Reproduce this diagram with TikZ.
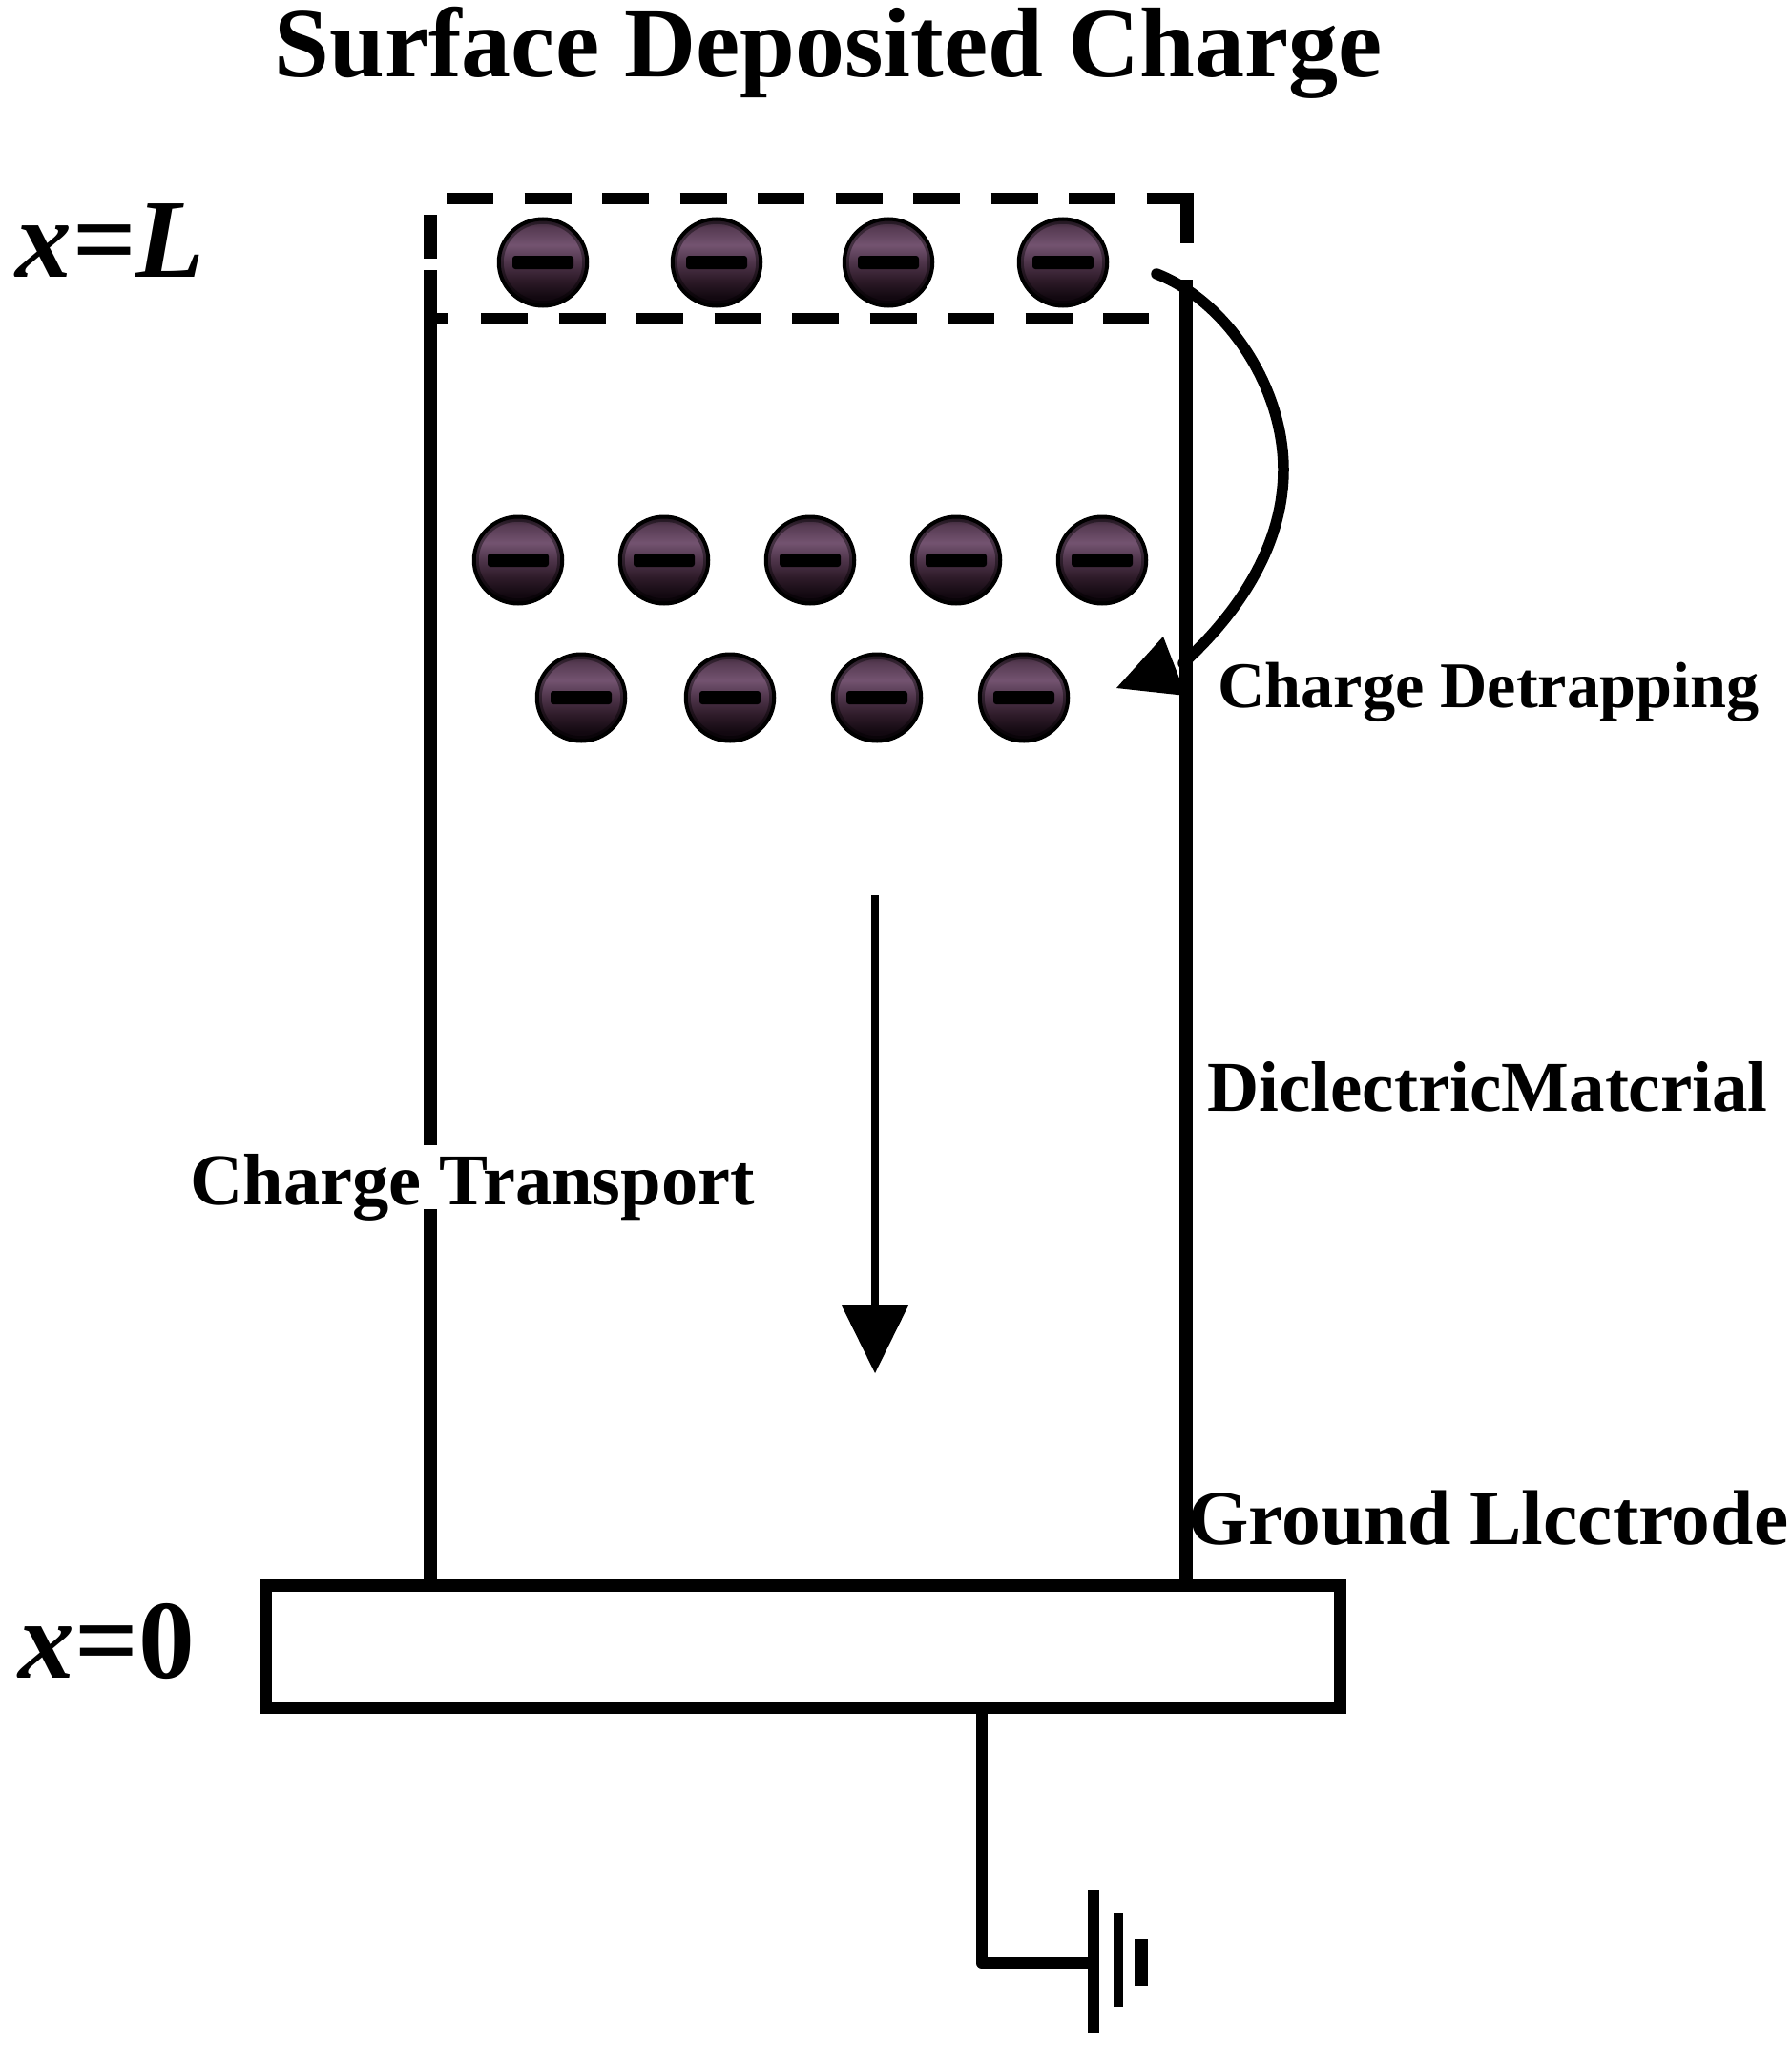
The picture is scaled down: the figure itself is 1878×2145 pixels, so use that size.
\documentclass[tikz,border=0pt]{standalone}
\usepackage{fontspec}
\setmainfont{Liberation Serif}
\usetikzlibrary{shapes.geometric}
\definecolor{ballDark}{HTML}{120810}
\definecolor{ballLow}{HTML}{2E1B29}
\definecolor{ballMidd}{HTML}{4E344A}
\definecolor{ballHigh}{HTML}{735370}
\definecolor{ballTop}{HTML}{563B52}
\definecolor{ballEdge}{HTML}{332130}
\pgfdeclareverticalshading{ballshade}{100bp}{
  color(0bp)=(ballDark);
  color(30bp)=(ballDark);
  color(40bp)=(ballLow);
  color(50bp)=(ballMidd);
  color(60bp)=(ballHigh);
  color(70bp)=(ballTop);
  color(75bp)=(ballEdge);
  color(100bp)=(ballEdge)}
\tikzset{
  x=0.4pt,y=-0.4pt,
  wall/.style={line width=5.8pt,black},
  dashline/.style={line width=4.6pt,black,dash pattern=on 19.6pt off 13pt},
  electrode/.style={draw=black,line width=5.2pt,fill=white,minimum width=450.4pt,minimum height=51.2pt,inner sep=0pt,anchor=center},
  lead/.style={line width=5pt,black,line join=round},
  ball/.style={ellipse,minimum width=37pt,minimum height=36.4pt,inner sep=0pt,draw=black,line width=1.6pt,shading=ballshade,
    path picture={
      \draw[black,opacity=.4,line width=3pt] (path picture bounding box.center) ellipse [x radius=18pt,y radius=17.6pt];
      \fill[black,rounded corners=1.2pt] ([xshift=-12.8pt,yshift=-2.8pt]path picture bounding box.center) rectangle ([xshift=12.8pt,yshift=2.8pt]path picture bounding box.center);}},
  lbl/.style={anchor=base west,inner sep=0pt,text=black},
}
\begin{document}
\begin{tikzpicture}
\useasboundingbox (0,0) rectangle (1878,2145);
\fill[white] (0,0) rectangle (1878,2145);
% title and labels
\node[lbl,font=\fontsize{41.6}{44}\selectfont\bfseries] (title) at (287,81) {Surface Deposited Charge};
\node[lbl,font=\fontsize{47}{50}\selectfont\bfseries\itshape] (xL) at (16,290) {x=L};
\node[lbl,font=\fontsize{47}{50}\selectfont\bfseries] (x0) at (19,1758) {\textit{x}=0};
\node[lbl,font=\fontsize{27.3}{30}\selectfont\bfseries] (detrap) at (1276,741) {Charge Detrapping};
\node[lbl,font=\fontsize{30}{32}\selectfont\bfseries] (mat) at (1265,1164) {DiclectricMatcrial};
\node[lbl,font=\fontsize{30.6}{32}\selectfont\bfseries] (trans) at (199,1262) {Charge Transport};
\node[lbl,font=\fontsize{32.6}{34}\selectfont\bfseries] (gnd) at (1245,1618) {Ground Llcctrode};
% corner and wall coordinates
\coordinate (dashTL) at (468,208);
\coordinate (dashTR) at (1250,208);
\coordinate (dashTRs) at (1244,202);
\coordinate (dashTRe) at (1244,255);
\coordinate (dashBL) at (504,334);
\coordinate (dashBR) at (1204,334);
\coordinate (stubL) at (451,334);
\coordinate (stubR) at (470,334);
\coordinate (lwA) at (451,225);
\coordinate (lwB) at (451,271);
\coordinate (lwC) at (451,283);
\coordinate (lwD) at (451,1200);
\coordinate (lwE) at (451,1267);
\coordinate (lwF) at (451,1662);
\coordinate (rwA) at (1243,293);
\coordinate (rwB) at (1243,1662);
% electrode
\node[electrode] (elec) at (841.5,1725.5) {};
% dielectric walls
\draw[wall] (lwC) -- (lwD);
\draw[wall] (lwE) -- (lwF);
\draw[wall] (lwA) -- (lwB);
\draw[wall] (rwA) -- (rwB);
% dashed surface layer
\draw[dashline] (dashTL) -- (dashTR);
\draw[wall] (dashTRs) -- (dashTRe);
\draw[dashline] (dashBL) -- (dashBR);
\draw[line width=4.6pt] (stubL) -- (stubR);
% charges
\foreach \n/\x/\y in {a1/569/275,a2/751/275,a3/931/275,a4/1114/275,
  b1/543/587,b2/696/587,b3/849/587,b4/1002/587,b5/1155/587,
  c1/609/731,c2/765/731,c3/919/731,c4/1073/731}
  \node[ball] (\n) at (\x,\y) {};
% detrapping arrow
\coordinate (arcS) at (1212,287);
\coordinate (arcM) at (1345,492);
\coordinate (arcE) at (1240,695);
\coordinate (tipA) at (1170,721);
\coordinate (tipB) at (1219,667);
\coordinate (tipC) at (1243,729);
\draw[line width=4.6pt,black,line cap=round] (arcS) .. controls (1285,315) and (1345,405) .. (arcM) .. controls (1345,570) and (1300,640) .. (arcE);
\fill[black] (tipA) -- (tipB) -- (tipC) -- cycle;
% transport arrow
\coordinate (trS) at (917,938);
\coordinate (trE) at (917,1375);
\coordinate (trT) at (917,1439);
\coordinate (trL) at (882,1368);
\coordinate (trR) at (952,1368);
\draw[line width=3.4pt,black] (trS) -- (trE);
\fill[black] (trT) -- (trL) -- (trR) -- cycle;
% ground
\coordinate (ldC) at (1029,2057);
\coordinate (ldP) at (1146,2057);
\coordinate (p1a) at (1146,1980);
\coordinate (p1b) at (1146,2130);
\coordinate (p2a) at (1172,2005);
\coordinate (p2b) at (1172,2103);
\coordinate (p3a) at (1196,2032);
\coordinate (p3b) at (1196,2081);
\draw[lead] (elec.south -| ldC) -- (ldC) -- (ldP);
\draw[line width=4.8pt] (p1a) -- (p1b);
\draw[line width=4pt] (p2a) -- (p2b);
\draw[line width=5.6pt] (p3a) -- (p3b);
\end{tikzpicture}
\end{document}
